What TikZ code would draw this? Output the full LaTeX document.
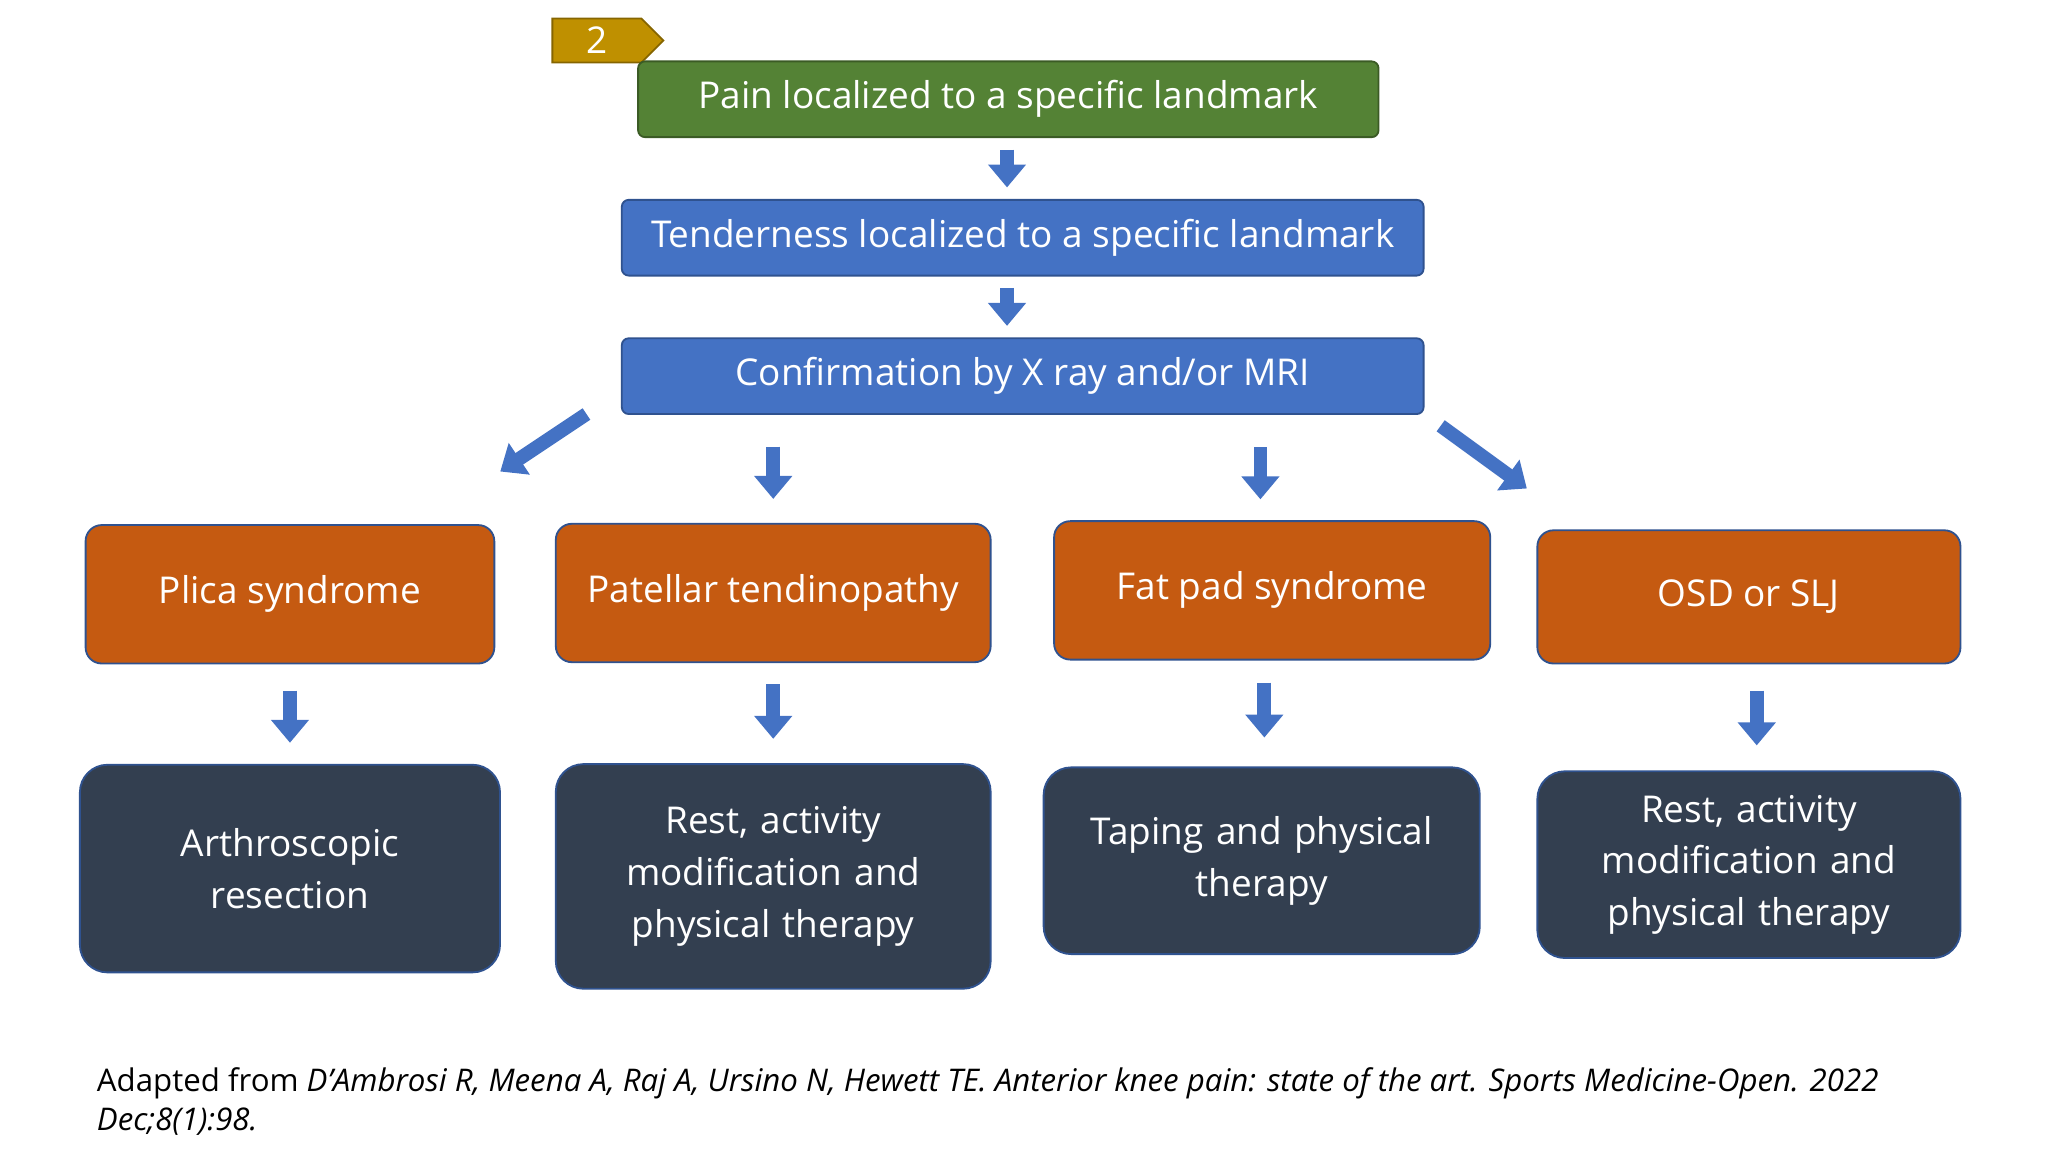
\documentclass[tikz,border=0pt]{standalone}
\usepackage{fontspec}
\setmainfont{Open Sans}
\usetikzlibrary{shapes,arrows.meta,positioning,calc}
\definecolor{cgreen}{HTML}{548235}
\definecolor{cblue}{HTML}{4472C4}
\definecolor{corange}{HTML}{C55A11}
\definecolor{cdark}{HTML}{333F50}
\definecolor{cgold}{HTML}{BF9000}
\definecolor{cedge}{HTML}{2F528F}

\begin{document}
\begin{tikzpicture}[
    x=0.02cm,
    y=-0.02cm,
    box/.style={
        rectangle,
        draw=cedge,
        thick,
        text=white,
        text centered,
        font=\fontsize{16.1}{22.5}\selectfont,
        rounded corners=3pt
    },
    stage/.style={
        box,
        fill=cblue,
        minimum width=12.28cm,
        minimum height=1.16cm
    },
    diag/.style={
        box,
        fill=corange,
        minimum width=6.26cm,
        minimum height=2.12cm,
        rounded corners=7pt
    },
    treat/.style={
        box,
        fill=cdark,
        minimum width=6.26cm,
        text width=6.2cm,
        rounded corners=12pt
    },
    line/.style={
        draw=cblue,
        line width=6pt,
        -{Triangle[width=16pt,length=10pt]}
    }
]
\useasboundingbox (0,0) rectangle (1568,882);

% Nodes
\node [box, fill=cgold, draw=cgold!70!black, single arrow, single arrow head extend=0pt,
    minimum width=0.62cm, minimum height=1.7cm, rounded corners=0pt] (tag) at (457,31) {2};
\node [stage, fill=cgreen, draw=cgreen!70!black, minimum width=11.34cm] (pain) at (772,76) {Pain localized to a specific landmark};
\node [stage] (tender) at (783,182) {Tenderness localized to a specific landmark};
\node [stage] (confirm) at (783,288) {Confirmation by X ray and/or MRI};

\node [diag] (plica) at (222,455) {Plica syndrome};
\node [diag, minimum width=6.66cm] (patellar) at (592,454) {Patellar tendinopathy};
\node [diag, minimum width=6.68cm] (fatpad) at (974,452) {Fat pad syndrome};
\node [diag, minimum width=6.48cm, minimum height=2.04cm] (osd) at (1339,457) {OSD or SLJ};

\node [treat, minimum height=3.18cm] (arthro) at (222,665) {Arthroscopic\\resection};
\node [treat, minimum width=6.66cm, minimum height=3.44cm] (rest1) at (592,671) {Rest, activity\\modification and\\physical therapy};
\node [treat, minimum width=6.68cm, minimum height=2.86cm] (taping) at (966,659) {Taping and physical\\therapy};
\node [treat, minimum width=6.48cm, minimum height=2.86cm] (rest2) at (1339,662) {Rest, activity\\modification and\\physical therapy};

\node [anchor=north west, align=left, font=\fontsize{13.6}{17}\selectfont] (cite) at (68,811)
    {Adapted from \textit{D’Ambrosi R, Meena A, Raj A, Ursino N, Hewett TE. Anterior knee pain: state of the art. Sports Medicine-Open. 2022}\\\textit{Dec;8(1):98.}};

% Edges
\coordinate (s1) at (449,317);
\coordinate (e1) at (383,361);
\coordinate (s4) at (1103,326);
\coordinate (e4) at (1169,374);
\path [line, shorten <=5pt, shorten >=5pt] (pain.south -| 771,0) -- (tender.north -| 771,0);
\path [line, shorten <=5pt, shorten >=5pt] (tender.south -| 771,0) -- (confirm.north -| 771,0);
\path [line] (s1) -- (e1);
\path [line] (patellar.north |- 0,342) -- (patellar.north |- 0,382);
\path [line] (fatpad.north -| 965,0) ++(0,-56) -- ++(0,40);
\path [line] (s4) -- (e4);
\path [line] (plica.south) ++(0,20) -- ++(0,40);
\path [line] (patellar.south) ++(0,16) -- ++(0,42);
\path [line] (fatpad.south) ++(-6,17) -- ++(0,42);
\path [line] (osd.south) ++(6,20) -- ++(0,42);

\end{tikzpicture}
\end{document}
